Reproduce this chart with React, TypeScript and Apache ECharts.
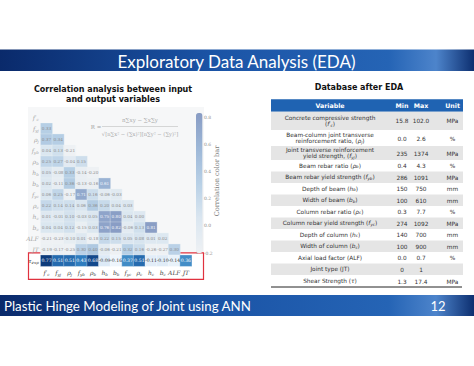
import React, { useEffect, useRef } from 'react';
import * as echarts from 'echarts';

// ---------- data ----------
const colVars = ['f′|c', 'f|yj', 'ρ|j', 'f|yb', 'ρ|b', 'h|b', 'b|b', 'f|yc', 'ρ|c', 'h|c', 'b|c', 'ALF|', 'JT|'];
const rowVars = [...colVars, 'τ|exp'];
const triValues: number[][] = [
  [],
  [0.33],
  [0.37, 0.34],
  [0.04, 0.13, -0.21],
  [0.25, 0.27, -0.04, 0.15],
  [0.05, -0.08, 0.33, -0.14, -0.2],
  [0.02, -0.11, 0.36, -0.13, -0.16, 0.61],
  [0.06, 0.25, -0.17, 0.71, 0.16, -0.06, -0.03],
  [0.22, 0.14, 0.14, 0.06, 0.36, 0.2, 0.04, 0.03],
  [0.01, -0.01, 0.1, -0.03, 0.05, 0.75, 0.8, 0.04, 0.0],
  [0.04, 0.04, 0.12, -0.15, 0.03, 0.76, 0.82, -0.06, 0.13, 0.81],
  [-0.21, -0.23, -0.1, 0.01, -0.18, 0.22, 0.15, 0.05, 0.08, 0.01, 0.02],
  [-0.19, -0.17, -0.25, 0.3, 0.4, -0.06, -0.21, 0.32, 0.16, -0.26, -0.27, 0.3],
];
const tauValues = [0.77, 0.51, 0.51, 0.43, 0.68, -0.09, -0.16, 0.37, 0.51, -0.11, -0.1, -0.14, 0.36];
const colorbarTicks = { min: -0.2, max: 0.83, interval: 0.2 };

const tableHeader = ['Variable', 'Min', 'Max', 'Unit'];
const tableVars = [
  'Concrete compressive strength\n({i|f′}{s|c})',
  'Beam-column joint transverse\nreinforcement ratio, ({i|ρ}{s|j})',
  'Joint transverse reinforcement\nyield strength, ({i|f}{s|yj})',
  'Beam rebar ratio ({i|ρ}{s|b})',
  'Beam rebar yield strength ({i|f}{s|yb})',
  'Depth of beam ({i|h}{s|b})',
  'Width of beam ({i|b}{s|b})',
  'Column rebar ratio ({i|ρ}{s|c})',
  'Column rebar yield strength ({i|f}{s|yc})',
  'Depth of column ({i|h}{s|c})',
  'Width of column ({i|b}{s|c})',
  'Axial load factor (ALF)',
  'Joint type (JT)',
  'Shear Strength ({i|τ})',
];
const tableMin = ['15.8', '0.0', '235', '0.4', '286', '150', '100', '0.3', '274', '140', '100', '0.0', '0', '1.3'];
const tableMax = ['102.0', '2.6', '1374', '4.3', '1091', '750', '610', '7.7', '1092', '700', '900', '0.7', '1', '17.4'];
const tableUnit = ['MPa', '%', 'MPa', '%', 'MPa', 'mm', 'mm', '%', 'MPa', 'mm', 'mm', '%', '', 'MPa'];

// ---------- layout ----------
const rowEdges = [111.7, 130, 146, 160, 171.5, 183, 194.5, 206, 217.5, 229, 240.5, 252, 263.5, 275, 287];
const tblLeft = 271;
const tblRight = 463;
const colX = [330, 402, 421, 452.5];

const fmtVar = (v: string) => {
  const [m, s] = v.split('|');
  return s ? `{m|${m}}{s|${s}}` : `{m|${m}}`;
};

const barGradient = {
  type: 'linear', x: 0, y: 0, x2: 1, y2: 0,
  colorStops: [
    { offset: 0, color: '#0a2a6b' },
    { offset: 0.45, color: '#1b54a6' },
    { offset: 0.82, color: '#2564b5' },
    { offset: 0.92, color: '#4d84cb' },
    { offset: 1, color: '#0d2f70' },
  ],
};

export default function App() {
  const ref = useRef<HTMLDivElement>(null);
  useEffect(() => {
    document.body.style.margin = '0';
    const chart = echarts.init(ref.current!, undefined, { renderer: 'svg' });

    const triData: any[] = [];
    triValues.forEach((row, i) => {
      row.forEach((v, j) => {
        triData.push({ value: [j, i, v], label: { color: v > 0.45 ? '#f3f5fa' : '#8c8c8c' } });
      });
    });
    const tauData = tauValues.map((v, j) => ({
      value: [j, rowVars.length - 1, v],
      label: { color: v > 0.3 ? '#ffffff' : '#333333' },
    }));

    const graphics: any[] = [];
    // title / footer bars
    graphics.push({ type: 'rect', shape: { x: 0, y: 49.5, width: 474, height: 21.5 }, style: { fill: barGradient }, z: 0 });
    graphics.push({
      type: 'text', x: 236.5, y: 61, z: 1,
      style: { text: 'Exploratory Data Analysis (EDA)', fill: '#ffffff', font: '17px Lato', align: 'center', verticalAlign: 'middle' },
    });
    graphics.push({ type: 'rect', shape: { x: 0, y: 295, width: 474, height: 21 }, style: { fill: barGradient }, z: 0 });
    graphics.push({
      type: 'text', x: 4, y: 306, z: 1,
      style: { text: 'Plastic Hinge Modeling of Joint using ANN', fill: '#ffffff', font: '13.3px Lato', align: 'left', verticalAlign: 'middle' },
    });
    graphics.push({
      type: 'text', x: 438, y: 306, z: 1,
      style: { text: '12', fill: '#ffffff', font: '13px Lato', align: 'center', verticalAlign: 'middle' },
    });
    // headings
    graphics.push({
      type: 'text', x: 113, y: 94.5, z: 1,
      style: {
        text: 'Correlation analysis between input\nand output variables', fill: '#111111',
        font: 'bold 8px "DejaVu Sans"', lineHeight: 10.5, align: 'center', verticalAlign: 'middle',
      },
    });
    graphics.push({
      type: 'text', x: 359, y: 87, z: 1,
      style: { text: 'Database after EDA', fill: '#111111', font: 'bold 8px "DejaVu Sans"', align: 'center', verticalAlign: 'middle' },
    });
    // heatmap panel background + red frame
    graphics.push({ type: 'rect', shape: { x: 28, y: 107, width: 176, height: 145.5 }, style: { fill: '#f6f7f8' }, z: 0 });
    graphics.push({
      type: 'rect', shape: { x: 28.5, y: 252.8, width: 175, height: 26.5 },
      style: { fill: '#ffffff', stroke: '#e0323f', lineWidth: 1.2 }, z: 0,
    });
    // formula
    graphics.push({
      type: 'text', x: 96, y: 127, z: 1,
      style: { text: 'R =', fill: '#a8a8a8', font: '5.5px "DejaVu Serif"', align: 'center', verticalAlign: 'middle' },
    });
    graphics.push({
      type: 'text', x: 140, y: 120, z: 1,
      style: { text: 'n∑xy − ∑x∑y', fill: '#a8a8a8', font: '5.5px "DejaVu Serif"', align: 'center', verticalAlign: 'middle' },
    });
    graphics.push({ type: 'line', shape: { x1: 102, y1: 126.5, x2: 178, y2: 126.5 }, style: { stroke: '#b5b5b5', lineWidth: 0.5 }, z: 1 });
    graphics.push({
      type: 'text', x: 140, y: 134, z: 1,
      style: { text: '√[n∑x² − (∑x)²][n∑y² − (∑y)²]', fill: '#a8a8a8', font: '5.2px "DejaVu Serif"', align: 'center', verticalAlign: 'middle' },
    });
    // colorbar name
    graphics.push({
      type: 'text', x: 217, y: 181, rotation: Math.PI / 2, z: 1,
      style: { text: 'Correlation color bar', fill: '#7a7a7a', font: '6.6px "DejaVu Serif"', align: 'center', verticalAlign: 'middle' },
    });

    // table
    graphics.push({ type: 'rect', shape: { x: tblLeft, y: 99.3, width: tblRight - tblLeft, height: 12.4 }, style: { fill: '#1f63b2' }, z: 0 });
    tableHeader.forEach((h, k) => {
      graphics.push({
        type: 'text', x: colX[k], y: 105.6, z: 1,
        style: { text: h, fill: '#ffffff', font: 'bold 6.3px "DejaVu Sans"', align: 'center', verticalAlign: 'middle' },
      });
    });
    const rich = {
      i: { fontStyle: 'italic', fontSize: 5.8, fontFamily: 'DejaVu Sans', fill: '#333333' },
      s: { fontStyle: 'italic', fontSize: 4, fontFamily: 'DejaVu Sans', fill: '#333333', verticalAlign: 'bottom', padding: [2, 0, 0, 0] },
    };
    tableVars.forEach((t, r) => {
      const y0 = rowEdges[r];
      const y1 = rowEdges[r + 1];
      const cy = (y0 + y1) / 2;
      if (r % 2 === 0) {
        graphics.push({ type: 'rect', shape: { x: tblLeft, y: y0, width: tblRight - tblLeft, height: y1 - y0 }, style: { fill: '#e5e5e5' }, z: 0 });
      }
      graphics.push({
        type: 'text', x: colX[0], y: cy, z: 1,
        style: { text: t, fill: '#333333', font: '5.8px "DejaVu Sans"', lineHeight: 6.4, align: 'center', verticalAlign: 'middle', rich },
      });
      [tableMin[r], tableMax[r], tableUnit[r]].forEach((v, k) => {
        graphics.push({
          type: 'text', x: colX[k + 1], y: cy + 0.5, z: 1,
          style: { text: v, fill: '#333333', font: '5.8px "DejaVu Sans"', align: 'center', verticalAlign: 'middle' },
        });
      });
    });
    graphics.push({ type: 'line', shape: { x1: tblLeft, y1: 287, x2: tblRight - 1, y2: 287 }, style: { stroke: '#222222', lineWidth: 1 }, z: 1 });

    const axisRich = {
      m: { fontFamily: 'DejaVu Serif', fontStyle: 'italic', fontSize: 6, lineHeight: 8 },
      s: { fontFamily: 'DejaVu Serif', fontStyle: 'italic', fontSize: 4, lineHeight: 8, verticalAlign: 'bottom' },
    };

    const option: any = {
      animation: false,
      backgroundColor: '#ffffff',
      grid: [
        { left: 40.7, top: 112.2, width: 151, height: 154 },
        { left: 196, top: 113, width: 6.5, height: 140 },
      ],
      xAxis: [
        {
          type: 'category', gridIndex: 0, data: colVars, position: 'bottom',
          axisLine: { show: false }, axisTick: { show: false }, splitLine: { show: false },
          axisLabel: { interval: 0, margin: 2.5, color: '#444444', formatter: fmtVar, rich: axisRich },
        },
        { type: 'value', gridIndex: 1, show: false, min: 0, max: 1 },
      ],
      yAxis: [
        {
          type: 'category', gridIndex: 0, inverse: true,
          data: rowVars.map((v, i) => ({ value: v, textStyle: { color: i === rowVars.length - 1 ? '#333333' : '#a5a5a5' } })),
          axisLine: { show: false }, axisTick: { show: false }, splitLine: { show: false },
          axisLabel: { interval: 0, margin: 2, formatter: fmtVar, rich: axisRich },
        },
        {
          type: 'value', gridIndex: 1, position: 'right',
          min: colorbarTicks.min, max: colorbarTicks.max, interval: colorbarTicks.interval,
          axisLine: { show: false }, splitLine: { show: false },
          axisTick: { show: true, length: 2, lineStyle: { color: '#9a9a9a', width: 0.5 } },
          axisLabel: {
            margin: 1.5, fontSize: 4.5, color: '#8a8a8a', fontFamily: 'DejaVu Serif', showMaxLabel: false,
            formatter: (v: number) => v.toFixed(1),
          },
        },
      ],
      visualMap: [
        {
          type: 'continuous', seriesIndex: 0, min: colorbarTicks.min, max: colorbarTicks.max,
          show: true, calculable: false, orient: 'vertical', left: 196, top: 113, padding: 0,
          itemWidth: 6.5, itemHeight: 140, text: null,
          inRange: { color: ['#eef1f4', '#dae6f0', '#b8d0e6', '#9db7d7', '#889cc4'] },
        },
        {
          type: 'continuous', seriesIndex: 1, min: -0.2, max: 0.85, show: false,
          inRange: { color: ['#f7fbff', '#c6dbef', '#6baed6', '#2f7dbf', '#164e94', '#08306b'] },
        },
      ],
      series: [
        {
          type: 'heatmap', xAxisIndex: 0, yAxisIndex: 0, data: triData,
          itemStyle: { borderColor: '#f6f7f8', borderWidth: 0.3 },
          label: { show: true, fontSize: 4.2, fontFamily: 'DejaVu Serif', formatter: (p: any) => p.value[2].toFixed(2) },
        },
        {
          type: 'heatmap', xAxisIndex: 0, yAxisIndex: 0, data: tauData,
          itemStyle: { borderColor: '#ffffff', borderWidth: 0.3 },
          label: { show: true, fontSize: 4.6, fontFamily: 'DejaVu Serif', formatter: (p: any) => p.value[2].toFixed(2) },
        },
        { type: 'scatter', xAxisIndex: 1, yAxisIndex: 1, data: [] },
      ],
      graphic: graphics,
    };
    chart.setOption(option);
    return () => chart.dispose();
  }, []);
  return <div ref={ref} style={{ width: 474, height: 366 }} />;
}
